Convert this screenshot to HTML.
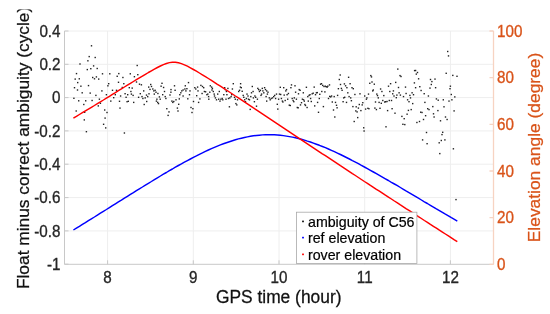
<!DOCTYPE html>
<html><head><meta charset="utf-8"><title>ambiguity</title>
<style>
html,body{margin:0;padding:0;background:#fff;}
svg{display:block;font-family:"Liberation Sans",sans-serif;}
.tk{font-size:15.2px;fill:#262626;stroke:#262626;stroke-width:0.3px;}
.tr{font-size:15.2px;fill:#d95319;stroke:#d95319;stroke-width:0.3px;}
.lb{font-size:17.4px;fill:#111;stroke:#111;stroke-width:0.25px;}
.lg{font-size:14.2px;fill:#000;stroke:#000;stroke-width:0.2px;}
</style></head><body>
<svg width="550" height="314" viewBox="0 0 550 314">
<rect width="550" height="314" fill="#fff"/>
<g stroke="#eeeeee" stroke-width="1"><line x1="107.6" y1="31.0" x2="107.6" y2="264.3"/><line x1="193.3" y1="31.0" x2="193.3" y2="264.3"/><line x1="279.0" y1="31.0" x2="279.0" y2="264.3"/><line x1="364.7" y1="31.0" x2="364.7" y2="264.3"/><line x1="450.4" y1="31.0" x2="450.4" y2="264.3"/><line x1="64.5" y1="31.0" x2="493.5" y2="31.0"/><line x1="64.5" y1="64.3" x2="493.5" y2="64.3"/><line x1="64.5" y1="97.6" x2="493.5" y2="97.6"/><line x1="64.5" y1="130.9" x2="493.5" y2="130.9"/><line x1="64.5" y1="164.2" x2="493.5" y2="164.2"/><line x1="64.5" y1="197.6" x2="493.5" y2="197.6"/><line x1="64.5" y1="230.9" x2="493.5" y2="230.9"/></g>
<g stroke="#c8c8c8" stroke-width="1" fill="none"><path d="M64.5,31.0 V264.3 H493.5"/><path d="M64.5,31.0 h4M64.5,64.3 h4M64.5,97.6 h4M64.5,130.9 h4M64.5,164.2 h4M64.5,197.6 h4M64.5,230.9 h4M64.5,264.2 h4M107.6,264.3 v-4M193.3,264.3 v-4M279.0,264.3 v-4M364.7,264.3 v-4M450.4,264.3 v-4"/></g>
<g stroke="#f7d3c2" stroke-width="1.3" fill="none"><path d="M493.5,31.0 V264.3"/><path d="M493.5,264.3 h-4M493.5,217.6 h-4M493.5,171.0 h-4M493.5,124.3 h-4M493.5,77.7 h-4M493.5,31.0 h-4"/></g>
<g fill="#222"><rect x="90.8" y="45.1" width="1.4" height="1.4"/><rect x="88.5" y="55.9" width="1.4" height="1.4"/><rect x="94.5" y="56.8" width="1.4" height="1.4"/><rect x="87.2" y="60.1" width="1.4" height="1.4"/><rect x="79.3" y="63.3" width="1.4" height="1.4"/><rect x="92.9" y="65.2" width="1.4" height="1.4"/><rect x="90.1" y="68.0" width="1.4" height="1.4"/><rect x="86.6" y="68.9" width="1.4" height="1.4"/><rect x="96.5" y="67.8" width="1.4" height="1.4"/><rect x="75.8" y="72.9" width="1.4" height="1.4"/><rect x="101.8" y="73.1" width="1.4" height="1.4"/><rect x="109.1" y="73.1" width="1.4" height="1.4"/><rect x="118.1" y="72.9" width="1.4" height="1.4"/><rect x="129.6" y="73.1" width="1.4" height="1.4"/><rect x="74.5" y="78.4" width="1.4" height="1.4"/><rect x="78.6" y="78.1" width="1.4" height="1.4"/><rect x="77.0" y="81.9" width="1.4" height="1.4"/><rect x="73.8" y="87.0" width="1.4" height="1.4"/><rect x="76.8" y="89.3" width="1.4" height="1.4"/><rect x="80.2" y="85.5" width="1.4" height="1.4"/><rect x="81.5" y="92.1" width="1.4" height="1.4"/><rect x="87.8" y="84.9" width="1.4" height="1.4"/><rect x="89.5" y="92.4" width="1.4" height="1.4"/><rect x="92.0" y="76.8" width="1.4" height="1.4"/><rect x="93.8" y="78.1" width="1.4" height="1.4"/><rect x="95.7" y="76.2" width="1.4" height="1.4"/><rect x="98.0" y="78.4" width="1.4" height="1.4"/><rect x="95.2" y="94.7" width="1.4" height="1.4"/><rect x="73.2" y="97.6" width="1.4" height="1.4"/><rect x="78.0" y="100.1" width="1.4" height="1.4"/><rect x="85.0" y="100.1" width="1.4" height="1.4"/><rect x="91.4" y="99.8" width="1.4" height="1.4"/><rect x="83.1" y="103.8" width="1.4" height="1.4"/><rect x="75.5" y="110.3" width="1.4" height="1.4"/><rect x="84.0" y="111.6" width="1.4" height="1.4"/><rect x="98.7" y="98.5" width="1.4" height="1.4"/><rect x="101.2" y="90.2" width="1.4" height="1.4"/><rect x="99.7" y="102.6" width="1.4" height="1.4"/><rect x="97.6" y="105.2" width="1.4" height="1.4"/><rect x="104.0" y="109.3" width="1.4" height="1.4"/><rect x="106.3" y="111.8" width="1.4" height="1.4"/><rect x="105.7" y="94.0" width="1.4" height="1.4"/><rect x="108.0" y="83.0" width="1.4" height="1.4"/><rect x="107.2" y="85.1" width="1.4" height="1.4"/><rect x="110.1" y="100.4" width="1.4" height="1.4"/><rect x="111.8" y="89.6" width="1.4" height="1.4"/><rect x="113.0" y="97.0" width="1.4" height="1.4"/><rect x="114.6" y="94.0" width="1.4" height="1.4"/><rect x="115.8" y="89.6" width="1.4" height="1.4"/><rect x="116.5" y="75.6" width="1.4" height="1.4"/><rect x="117.8" y="81.6" width="1.4" height="1.4"/><rect x="122.2" y="76.8" width="1.4" height="1.4"/><rect x="123.1" y="83.0" width="1.4" height="1.4"/><rect x="121.6" y="86.8" width="1.4" height="1.4"/><rect x="118.8" y="100.6" width="1.4" height="1.4"/><rect x="119.3" y="107.4" width="1.4" height="1.4"/><rect x="119.9" y="95.3" width="1.4" height="1.4"/><rect x="124.4" y="93.0" width="1.4" height="1.4"/><rect x="125.4" y="96.6" width="1.4" height="1.4"/><rect x="127.0" y="94.0" width="1.4" height="1.4"/><rect x="126.4" y="101.0" width="1.4" height="1.4"/><rect x="127.6" y="100.6" width="1.4" height="1.4"/><rect x="128.6" y="87.0" width="1.4" height="1.4"/><rect x="131.5" y="87.4" width="1.4" height="1.4"/><rect x="130.2" y="90.8" width="1.4" height="1.4"/><rect x="130.7" y="93.4" width="1.4" height="1.4"/><rect x="132.4" y="94.7" width="1.4" height="1.4"/><rect x="133.0" y="101.7" width="1.4" height="1.4"/><rect x="133.7" y="76.0" width="1.4" height="1.4"/><rect x="83.6" y="119.2" width="1.4" height="1.4"/><rect x="85.7" y="131.0" width="1.4" height="1.4"/><rect x="104.4" y="117.4" width="1.4" height="1.4"/><rect x="102.9" y="123.6" width="1.4" height="1.4"/><rect x="105.0" y="127.2" width="1.4" height="1.4"/><rect x="123.7" y="132.3" width="1.4" height="1.4"/><rect x="135.8" y="81.3" width="1.4" height="1.4"/><rect x="138.8" y="83.5" width="1.4" height="1.4"/><rect x="140.7" y="84.1" width="1.4" height="1.4"/><rect x="143.0" y="90.2" width="1.4" height="1.4"/><rect x="139.6" y="93.0" width="1.4" height="1.4"/><rect x="137.9" y="96.6" width="1.4" height="1.4"/><rect x="141.3" y="95.9" width="1.4" height="1.4"/><rect x="142.2" y="97.8" width="1.4" height="1.4"/><rect x="144.5" y="97.2" width="1.4" height="1.4"/><rect x="145.8" y="94.4" width="1.4" height="1.4"/><rect x="147.0" y="95.9" width="1.4" height="1.4"/><rect x="148.3" y="93.1" width="1.4" height="1.4"/><rect x="146.0" y="100.8" width="1.4" height="1.4"/><rect x="143.5" y="103.8" width="1.4" height="1.4"/><rect x="148.0" y="86.4" width="1.4" height="1.4"/><rect x="150.0" y="83.8" width="1.4" height="1.4"/><rect x="150.8" y="85.8" width="1.4" height="1.4"/><rect x="149.3" y="88.7" width="1.4" height="1.4"/><rect x="152.1" y="88.3" width="1.4" height="1.4"/><rect x="153.1" y="90.2" width="1.4" height="1.4"/><rect x="154.4" y="89.6" width="1.4" height="1.4"/><rect x="155.3" y="91.5" width="1.4" height="1.4"/><rect x="153.6" y="93.4" width="1.4" height="1.4"/><rect x="157.2" y="92.8" width="1.4" height="1.4"/><rect x="158.7" y="96.2" width="1.4" height="1.4"/><rect x="159.5" y="98.5" width="1.4" height="1.4"/><rect x="156.2" y="98.5" width="1.4" height="1.4"/><rect x="155.7" y="100.4" width="1.4" height="1.4"/><rect x="157.0" y="101.7" width="1.4" height="1.4"/><rect x="157.8" y="102.9" width="1.4" height="1.4"/><rect x="161.3" y="82.6" width="1.4" height="1.4"/><rect x="160.4" y="85.5" width="1.4" height="1.4"/><rect x="162.9" y="86.8" width="1.4" height="1.4"/><rect x="163.8" y="90.8" width="1.4" height="1.4"/><rect x="162.0" y="94.0" width="1.4" height="1.4"/><rect x="164.5" y="95.9" width="1.4" height="1.4"/><rect x="165.2" y="97.8" width="1.4" height="1.4"/><rect x="166.1" y="108.0" width="1.4" height="1.4"/><rect x="168.3" y="111.2" width="1.4" height="1.4"/><rect x="169.3" y="94.3" width="1.4" height="1.4"/><rect x="170.2" y="91.5" width="1.4" height="1.4"/><rect x="170.3" y="88.9" width="1.4" height="1.4"/><rect x="171.2" y="100.4" width="1.4" height="1.4"/><rect x="172.1" y="101.7" width="1.4" height="1.4"/><rect x="173.1" y="100.8" width="1.4" height="1.4"/><rect x="175.3" y="99.1" width="1.4" height="1.4"/><rect x="173.8" y="85.1" width="1.4" height="1.4"/><rect x="174.4" y="89.6" width="1.4" height="1.4"/><rect x="176.7" y="107.4" width="1.4" height="1.4"/><rect x="177.3" y="110.3" width="1.4" height="1.4"/><rect x="178.0" y="103.6" width="1.4" height="1.4"/><rect x="178.6" y="98.2" width="1.4" height="1.4"/><rect x="179.1" y="94.0" width="1.4" height="1.4"/><rect x="180.1" y="92.1" width="1.4" height="1.4"/><rect x="181.1" y="90.2" width="1.4" height="1.4"/><rect x="182.4" y="89.3" width="1.4" height="1.4"/><rect x="182.4" y="95.3" width="1.4" height="1.4"/><rect x="184.6" y="85.1" width="1.4" height="1.4"/><rect x="184.2" y="88.3" width="1.4" height="1.4"/><rect x="186.2" y="88.0" width="1.4" height="1.4"/><rect x="185.2" y="90.2" width="1.4" height="1.4"/><rect x="187.8" y="81.9" width="1.4" height="1.4"/><rect x="189.3" y="90.2" width="1.4" height="1.4"/><rect x="188.8" y="94.0" width="1.4" height="1.4"/><rect x="187.1" y="98.1" width="1.4" height="1.4"/><rect x="190.3" y="106.8" width="1.4" height="1.4"/><rect x="192.2" y="108.0" width="1.4" height="1.4"/><rect x="191.3" y="111.8" width="1.4" height="1.4"/><rect x="192.8" y="100.8" width="1.4" height="1.4"/><rect x="194.1" y="87.0" width="1.4" height="1.4"/><rect x="195.1" y="88.3" width="1.4" height="1.4"/><rect x="196.9" y="86.4" width="1.4" height="1.4"/><rect x="197.3" y="90.2" width="1.4" height="1.4"/><rect x="196.0" y="95.0" width="1.4" height="1.4"/><rect x="197.9" y="101.7" width="1.4" height="1.4"/><rect x="199.2" y="98.2" width="1.4" height="1.4"/><rect x="200.2" y="84.7" width="1.4" height="1.4"/><rect x="201.8" y="85.8" width="1.4" height="1.4"/><rect x="203.0" y="87.0" width="1.4" height="1.4"/><rect x="201.4" y="92.8" width="1.4" height="1.4"/><rect x="203.7" y="90.8" width="1.4" height="1.4"/><rect x="136.5" y="64.8" width="1.4" height="1.4"/><rect x="137.1" y="74.0" width="1.4" height="1.4"/><rect x="167.4" y="114.7" width="1.4" height="1.4"/><rect x="204.9" y="91.1" width="1.4" height="1.4"/><rect x="206.2" y="94.0" width="1.4" height="1.4"/><rect x="207.1" y="93.4" width="1.4" height="1.4"/><rect x="207.9" y="95.9" width="1.4" height="1.4"/><rect x="208.1" y="98.5" width="1.4" height="1.4"/><rect x="209.1" y="91.5" width="1.4" height="1.4"/><rect x="209.6" y="85.1" width="1.4" height="1.4"/><rect x="210.9" y="86.4" width="1.4" height="1.4"/><rect x="211.7" y="87.7" width="1.4" height="1.4"/><rect x="211.3" y="89.3" width="1.4" height="1.4"/><rect x="212.6" y="90.8" width="1.4" height="1.4"/><rect x="213.5" y="93.4" width="1.4" height="1.4"/><rect x="213.8" y="95.3" width="1.4" height="1.4"/><rect x="214.7" y="97.2" width="1.4" height="1.4"/><rect x="215.8" y="99.1" width="1.4" height="1.4"/><rect x="217.0" y="93.4" width="1.4" height="1.4"/><rect x="218.6" y="90.8" width="1.4" height="1.4"/><rect x="218.0" y="98.5" width="1.4" height="1.4"/><rect x="219.3" y="100.4" width="1.4" height="1.4"/><rect x="220.2" y="98.5" width="1.4" height="1.4"/><rect x="221.5" y="97.8" width="1.4" height="1.4"/><rect x="222.1" y="99.1" width="1.4" height="1.4"/><rect x="223.1" y="94.0" width="1.4" height="1.4"/><rect x="224.0" y="87.0" width="1.4" height="1.4"/><rect x="224.7" y="88.9" width="1.4" height="1.4"/><rect x="225.7" y="90.8" width="1.4" height="1.4"/><rect x="226.2" y="94.0" width="1.4" height="1.4"/><rect x="227.2" y="87.7" width="1.4" height="1.4"/><rect x="225.3" y="98.5" width="1.4" height="1.4"/><rect x="227.8" y="97.8" width="1.4" height="1.4"/><rect x="229.1" y="97.2" width="1.4" height="1.4"/><rect x="230.4" y="95.9" width="1.4" height="1.4"/><rect x="231.0" y="94.0" width="1.4" height="1.4"/><rect x="231.7" y="88.3" width="1.4" height="1.4"/><rect x="232.6" y="83.0" width="1.4" height="1.4"/><rect x="233.8" y="96.6" width="1.4" height="1.4"/><rect x="234.6" y="98.5" width="1.4" height="1.4"/><rect x="235.2" y="102.9" width="1.4" height="1.4"/><rect x="236.1" y="104.2" width="1.4" height="1.4"/><rect x="236.8" y="99.1" width="1.4" height="1.4"/><rect x="228.7" y="106.1" width="1.4" height="1.4"/><rect x="238.0" y="90.8" width="1.4" height="1.4"/><rect x="238.9" y="89.6" width="1.4" height="1.4"/><rect x="239.7" y="86.4" width="1.4" height="1.4"/><rect x="239.9" y="83.0" width="1.4" height="1.4"/><rect x="240.6" y="87.0" width="1.4" height="1.4"/><rect x="241.5" y="90.6" width="1.4" height="1.4"/><rect x="242.5" y="94.7" width="1.4" height="1.4"/><rect x="243.1" y="96.6" width="1.4" height="1.4"/><rect x="244.0" y="99.1" width="1.4" height="1.4"/><rect x="244.8" y="101.0" width="1.4" height="1.4"/><rect x="245.7" y="97.8" width="1.4" height="1.4"/><rect x="246.3" y="93.4" width="1.4" height="1.4"/><rect x="247.3" y="95.3" width="1.4" height="1.4"/><rect x="247.8" y="98.5" width="1.4" height="1.4"/><rect x="248.8" y="99.1" width="1.4" height="1.4"/><rect x="249.5" y="108.7" width="1.4" height="1.4"/><rect x="250.1" y="95.9" width="1.4" height="1.4"/><rect x="250.8" y="92.1" width="1.4" height="1.4"/><rect x="251.6" y="85.8" width="1.4" height="1.4"/><rect x="252.4" y="90.8" width="1.4" height="1.4"/><rect x="252.7" y="97.2" width="1.4" height="1.4"/><rect x="253.7" y="101.0" width="1.4" height="1.4"/><rect x="254.2" y="95.3" width="1.4" height="1.4"/><rect x="255.0" y="96.6" width="1.4" height="1.4"/><rect x="255.8" y="105.5" width="1.4" height="1.4"/><rect x="256.7" y="98.5" width="1.4" height="1.4"/><rect x="257.1" y="87.7" width="1.4" height="1.4"/><rect x="258.0" y="88.9" width="1.4" height="1.4"/><rect x="258.8" y="90.8" width="1.4" height="1.4"/><rect x="259.7" y="89.6" width="1.4" height="1.4"/><rect x="260.3" y="94.7" width="1.4" height="1.4"/><rect x="260.9" y="93.4" width="1.4" height="1.4"/><rect x="261.6" y="87.7" width="1.4" height="1.4"/><rect x="262.2" y="90.2" width="1.4" height="1.4"/><rect x="263.1" y="92.1" width="1.4" height="1.4"/><rect x="263.9" y="87.0" width="1.4" height="1.4"/><rect x="264.8" y="88.9" width="1.4" height="1.4"/><rect x="265.4" y="95.9" width="1.4" height="1.4"/><rect x="266.0" y="90.2" width="1.4" height="1.4"/><rect x="266.7" y="93.4" width="1.4" height="1.4"/><rect x="266.0" y="100.4" width="1.4" height="1.4"/><rect x="267.3" y="91.5" width="1.4" height="1.4"/><rect x="268.6" y="97.2" width="1.4" height="1.4"/><rect x="269.5" y="99.1" width="1.4" height="1.4"/><rect x="270.5" y="97.8" width="1.4" height="1.4"/><rect x="271.8" y="97.2" width="1.4" height="1.4"/><rect x="273.0" y="95.9" width="1.4" height="1.4"/><rect x="274.0" y="94.7" width="1.4" height="1.4"/><rect x="274.9" y="97.8" width="1.4" height="1.4"/><rect x="275.8" y="93.4" width="1.4" height="1.4"/><rect x="276.6" y="103.6" width="1.4" height="1.4"/><rect x="277.1" y="108.4" width="1.4" height="1.4"/><rect x="277.9" y="98.5" width="1.4" height="1.4"/><rect x="278.8" y="93.4" width="1.4" height="1.4"/><rect x="279.6" y="86.6" width="1.4" height="1.4"/><rect x="280.0" y="93.8" width="1.4" height="1.4"/><rect x="280.7" y="97.8" width="1.4" height="1.4"/><rect x="281.7" y="100.4" width="1.4" height="1.4"/><rect x="282.2" y="101.3" width="1.4" height="1.4"/><rect x="283.0" y="87.0" width="1.4" height="1.4"/><rect x="283.5" y="94.4" width="1.4" height="1.4"/><rect x="284.5" y="99.8" width="1.4" height="1.4"/><rect x="285.1" y="90.2" width="1.4" height="1.4"/><rect x="285.8" y="88.9" width="1.4" height="1.4"/><rect x="286.4" y="94.0" width="1.4" height="1.4"/><rect x="287.0" y="98.5" width="1.4" height="1.4"/><rect x="287.7" y="92.8" width="1.4" height="1.4"/><rect x="288.6" y="104.5" width="1.4" height="1.4"/><rect x="289.6" y="104.8" width="1.4" height="1.4"/><rect x="290.2" y="87.0" width="1.4" height="1.4"/><rect x="290.8" y="84.2" width="1.4" height="1.4"/><rect x="291.5" y="97.8" width="1.4" height="1.4"/><rect x="292.4" y="99.8" width="1.4" height="1.4"/><rect x="293.1" y="101.0" width="1.4" height="1.4"/><rect x="293.6" y="97.2" width="1.4" height="1.4"/><rect x="294.3" y="85.1" width="1.4" height="1.4"/><rect x="294.9" y="91.5" width="1.4" height="1.4"/><rect x="295.7" y="98.5" width="1.4" height="1.4"/><rect x="296.6" y="106.8" width="1.4" height="1.4"/><rect x="297.5" y="107.1" width="1.4" height="1.4"/><rect x="297.8" y="93.1" width="1.4" height="1.4"/><rect x="298.5" y="88.9" width="1.4" height="1.4"/><rect x="299.4" y="89.6" width="1.4" height="1.4"/><rect x="299.8" y="104.2" width="1.4" height="1.4"/><rect x="300.8" y="102.0" width="1.4" height="1.4"/><rect x="301.7" y="98.5" width="1.4" height="1.4"/><rect x="302.6" y="92.1" width="1.4" height="1.4"/><rect x="302.9" y="99.1" width="1.4" height="1.4"/><rect x="303.6" y="100.4" width="1.4" height="1.4"/><rect x="304.2" y="103.8" width="1.4" height="1.4"/><rect x="304.8" y="104.8" width="1.4" height="1.4"/><rect x="305.7" y="86.6" width="1.4" height="1.4"/><rect x="306.4" y="106.8" width="1.4" height="1.4"/><rect x="307.1" y="95.9" width="1.4" height="1.4"/><rect x="307.6" y="100.4" width="1.4" height="1.4"/><rect x="308.4" y="94.7" width="1.4" height="1.4"/><rect x="309.3" y="94.0" width="1.4" height="1.4"/><rect x="309.9" y="97.8" width="1.4" height="1.4"/><rect x="310.6" y="100.8" width="1.4" height="1.4"/><rect x="311.5" y="93.1" width="1.4" height="1.4"/><rect x="312.5" y="92.5" width="1.4" height="1.4"/><rect x="313.5" y="86.4" width="1.4" height="1.4"/><rect x="314.0" y="105.2" width="1.4" height="1.4"/><rect x="314.8" y="94.0" width="1.4" height="1.4"/><rect x="315.7" y="92.1" width="1.4" height="1.4"/><rect x="316.6" y="91.9" width="1.4" height="1.4"/><rect x="316.9" y="101.7" width="1.4" height="1.4"/><rect x="317.8" y="111.6" width="1.4" height="1.4"/><rect x="318.6" y="97.8" width="1.4" height="1.4"/><rect x="319.1" y="93.6" width="1.4" height="1.4"/><rect x="319.9" y="83.5" width="1.4" height="1.4"/><rect x="320.8" y="83.0" width="1.4" height="1.4"/><rect x="321.1" y="90.8" width="1.4" height="1.4"/><rect x="322.0" y="84.7" width="1.4" height="1.4"/><rect x="322.7" y="105.9" width="1.4" height="1.4"/><rect x="323.3" y="85.8" width="1.4" height="1.4"/><rect x="324.2" y="91.2" width="1.4" height="1.4"/><rect x="324.6" y="85.5" width="1.4" height="1.4"/><rect x="325.5" y="86.0" width="1.4" height="1.4"/><rect x="326.5" y="86.4" width="1.4" height="1.4"/><rect x="327.1" y="85.5" width="1.4" height="1.4"/><rect x="328.8" y="84.2" width="1.4" height="1.4"/><rect x="327.8" y="97.8" width="1.4" height="1.4"/><rect x="329.0" y="95.7" width="1.4" height="1.4"/><rect x="330.0" y="96.2" width="1.4" height="1.4"/><rect x="330.9" y="95.3" width="1.4" height="1.4"/><rect x="331.6" y="101.3" width="1.4" height="1.4"/><rect x="332.8" y="109.3" width="1.4" height="1.4"/><rect x="333.5" y="95.9" width="1.4" height="1.4"/><rect x="334.8" y="101.7" width="1.4" height="1.4"/><rect x="335.8" y="104.6" width="1.4" height="1.4"/><rect x="336.4" y="107.1" width="1.4" height="1.4"/><rect x="336.9" y="94.7" width="1.4" height="1.4"/><rect x="337.7" y="88.0" width="1.4" height="1.4"/><rect x="338.6" y="78.8" width="1.4" height="1.4"/><rect x="339.5" y="74.3" width="1.4" height="1.4"/><rect x="339.8" y="83.8" width="1.4" height="1.4"/><rect x="340.7" y="87.7" width="1.4" height="1.4"/><rect x="341.4" y="89.6" width="1.4" height="1.4"/><rect x="342.4" y="101.0" width="1.4" height="1.4"/><rect x="343.0" y="97.2" width="1.4" height="1.4"/><rect x="343.7" y="83.2" width="1.4" height="1.4"/><rect x="344.0" y="96.6" width="1.4" height="1.4"/><rect x="334.1" y="116.3" width="1.4" height="1.4"/><rect x="344.9" y="85.1" width="1.4" height="1.4"/><rect x="346.2" y="87.0" width="1.4" height="1.4"/><rect x="347.1" y="92.1" width="1.4" height="1.4"/><rect x="347.9" y="76.6" width="1.4" height="1.4"/><rect x="345.8" y="101.7" width="1.4" height="1.4"/><rect x="348.4" y="95.9" width="1.4" height="1.4"/><rect x="349.4" y="83.0" width="1.4" height="1.4"/><rect x="350.0" y="97.2" width="1.4" height="1.4"/><rect x="350.7" y="100.0" width="1.4" height="1.4"/><rect x="351.3" y="87.0" width="1.4" height="1.4"/><rect x="352.6" y="88.0" width="1.4" height="1.4"/><rect x="352.2" y="105.9" width="1.4" height="1.4"/><rect x="354.2" y="93.8" width="1.4" height="1.4"/><rect x="355.5" y="106.1" width="1.4" height="1.4"/><rect x="355.1" y="110.2" width="1.4" height="1.4"/><rect x="356.4" y="111.2" width="1.4" height="1.4"/><rect x="357.7" y="107.4" width="1.4" height="1.4"/><rect x="358.6" y="103.8" width="1.4" height="1.4"/><rect x="359.3" y="93.1" width="1.4" height="1.4"/><rect x="360.2" y="109.9" width="1.4" height="1.4"/><rect x="361.5" y="104.2" width="1.4" height="1.4"/><rect x="362.1" y="102.0" width="1.4" height="1.4"/><rect x="364.0" y="95.3" width="1.4" height="1.4"/><rect x="364.9" y="108.4" width="1.4" height="1.4"/><rect x="365.7" y="98.5" width="1.4" height="1.4"/><rect x="366.2" y="97.2" width="1.4" height="1.4"/><rect x="367.2" y="107.6" width="1.4" height="1.4"/><rect x="368.2" y="108.0" width="1.4" height="1.4"/><rect x="367.8" y="93.4" width="1.4" height="1.4"/><rect x="369.1" y="82.6" width="1.4" height="1.4"/><rect x="370.1" y="74.9" width="1.4" height="1.4"/><rect x="370.8" y="76.2" width="1.4" height="1.4"/><rect x="371.3" y="81.3" width="1.4" height="1.4"/><rect x="372.0" y="90.2" width="1.4" height="1.4"/><rect x="372.6" y="89.3" width="1.4" height="1.4"/><rect x="373.6" y="83.5" width="1.4" height="1.4"/><rect x="374.2" y="107.4" width="1.4" height="1.4"/><rect x="374.8" y="101.3" width="1.4" height="1.4"/><rect x="375.7" y="108.9" width="1.4" height="1.4"/><rect x="376.1" y="93.4" width="1.4" height="1.4"/><rect x="376.8" y="94.9" width="1.4" height="1.4"/><rect x="377.6" y="97.2" width="1.4" height="1.4"/><rect x="378.4" y="101.7" width="1.4" height="1.4"/><rect x="379.3" y="107.6" width="1.4" height="1.4"/><rect x="379.9" y="88.3" width="1.4" height="1.4"/><rect x="380.6" y="102.6" width="1.4" height="1.4"/><rect x="381.2" y="90.8" width="1.4" height="1.4"/><rect x="382.1" y="99.8" width="1.4" height="1.4"/><rect x="383.1" y="94.9" width="1.4" height="1.4"/><rect x="384.0" y="101.3" width="1.4" height="1.4"/><rect x="385.0" y="101.0" width="1.4" height="1.4"/><rect x="386.3" y="100.8" width="1.4" height="1.4"/><rect x="386.9" y="109.9" width="1.4" height="1.4"/><rect x="387.8" y="85.5" width="1.4" height="1.4"/><rect x="388.6" y="99.8" width="1.4" height="1.4"/><rect x="389.1" y="90.8" width="1.4" height="1.4"/><rect x="389.9" y="83.0" width="1.4" height="1.4"/><rect x="390.8" y="99.8" width="1.4" height="1.4"/><rect x="391.4" y="108.0" width="1.4" height="1.4"/><rect x="392.0" y="93.1" width="1.4" height="1.4"/><rect x="392.7" y="90.2" width="1.4" height="1.4"/><rect x="393.3" y="95.3" width="1.4" height="1.4"/><rect x="394.3" y="112.5" width="1.4" height="1.4"/><rect x="395.0" y="81.7" width="1.4" height="1.4"/><rect x="395.6" y="97.0" width="1.4" height="1.4"/><rect x="396.2" y="94.4" width="1.4" height="1.4"/><rect x="397.8" y="86.8" width="1.4" height="1.4"/><rect x="398.4" y="92.1" width="1.4" height="1.4"/><rect x="399.3" y="74.9" width="1.4" height="1.4"/><rect x="400.3" y="75.8" width="1.4" height="1.4"/><rect x="399.7" y="94.4" width="1.4" height="1.4"/><rect x="402.8" y="95.9" width="1.4" height="1.4"/><rect x="404.8" y="86.4" width="1.4" height="1.4"/><rect x="405.4" y="92.8" width="1.4" height="1.4"/><rect x="406.4" y="113.5" width="1.4" height="1.4"/><rect x="406.9" y="99.1" width="1.4" height="1.4"/><rect x="407.7" y="109.7" width="1.4" height="1.4"/><rect x="408.3" y="101.0" width="1.4" height="1.4"/><rect x="409.2" y="94.7" width="1.4" height="1.4"/><rect x="409.8" y="97.2" width="1.4" height="1.4"/><rect x="410.5" y="108.9" width="1.4" height="1.4"/><rect x="411.4" y="92.1" width="1.4" height="1.4"/><rect x="412.0" y="102.9" width="1.4" height="1.4"/><rect x="412.8" y="94.0" width="1.4" height="1.4"/><rect x="413.7" y="82.2" width="1.4" height="1.4"/><rect x="397.1" y="68.4" width="1.4" height="1.4"/><rect x="413.9" y="69.9" width="1.4" height="1.4"/><rect x="357.0" y="116.9" width="1.4" height="1.4"/><rect x="353.5" y="120.8" width="1.4" height="1.4"/><rect x="363.0" y="127.1" width="1.4" height="1.4"/><rect x="363.4" y="130.3" width="1.4" height="1.4"/><rect x="385.3" y="126.1" width="1.4" height="1.4"/><rect x="401.2" y="115.7" width="1.4" height="1.4"/><rect x="403.5" y="118.0" width="1.4" height="1.4"/><rect x="402.2" y="123.6" width="1.4" height="1.4"/><rect x="404.1" y="123.9" width="1.4" height="1.4"/><rect x="414.9" y="87.0" width="1.4" height="1.4"/><rect x="417.9" y="78.1" width="1.4" height="1.4"/><rect x="419.1" y="86.0" width="1.4" height="1.4"/><rect x="420.4" y="89.8" width="1.4" height="1.4"/><rect x="423.5" y="93.0" width="1.4" height="1.4"/><rect x="424.2" y="101.7" width="1.4" height="1.4"/><rect x="420.0" y="111.5" width="1.4" height="1.4"/><rect x="421.3" y="111.8" width="1.4" height="1.4"/><rect x="427.0" y="108.0" width="1.4" height="1.4"/><rect x="428.3" y="108.9" width="1.4" height="1.4"/><rect x="427.7" y="95.3" width="1.4" height="1.4"/><rect x="429.3" y="87.4" width="1.4" height="1.4"/><rect x="429.8" y="78.8" width="1.4" height="1.4"/><rect x="430.6" y="83.8" width="1.4" height="1.4"/><rect x="431.2" y="80.9" width="1.4" height="1.4"/><rect x="434.3" y="78.4" width="1.4" height="1.4"/><rect x="434.9" y="87.0" width="1.4" height="1.4"/><rect x="432.1" y="105.9" width="1.4" height="1.4"/><rect x="432.8" y="113.1" width="1.4" height="1.4"/><rect x="435.7" y="98.2" width="1.4" height="1.4"/><rect x="437.5" y="99.5" width="1.4" height="1.4"/><rect x="437.2" y="109.9" width="1.4" height="1.4"/><rect x="442.6" y="99.1" width="1.4" height="1.4"/><rect x="443.3" y="106.1" width="1.4" height="1.4"/><rect x="448.3" y="100.4" width="1.4" height="1.4"/><rect x="449.3" y="88.0" width="1.4" height="1.4"/><rect x="449.7" y="85.5" width="1.4" height="1.4"/><rect x="450.6" y="93.8" width="1.4" height="1.4"/><rect x="451.2" y="99.1" width="1.4" height="1.4"/><rect x="454.1" y="96.2" width="1.4" height="1.4"/><rect x="453.4" y="110.2" width="1.4" height="1.4"/><rect x="452.1" y="74.7" width="1.4" height="1.4"/><rect x="456.3" y="75.6" width="1.4" height="1.4"/><rect x="447.0" y="50.8" width="1.4" height="1.4"/><rect x="447.8" y="55.2" width="1.4" height="1.4"/><rect x="414.9" y="69.8" width="1.4" height="1.4"/><rect x="416.8" y="71.8" width="1.4" height="1.4"/><rect x="415.6" y="73.4" width="1.4" height="1.4"/><rect x="445.5" y="72.6" width="1.4" height="1.4"/><rect x="424.9" y="115.0" width="1.4" height="1.4"/><rect x="433.4" y="116.3" width="1.4" height="1.4"/><rect x="422.8" y="118.8" width="1.4" height="1.4"/><rect x="418.8" y="120.8" width="1.4" height="1.4"/><rect x="416.2" y="121.8" width="1.4" height="1.4"/><rect x="439.8" y="120.1" width="1.4" height="1.4"/><rect x="444.8" y="116.3" width="1.4" height="1.4"/><rect x="446.4" y="118.8" width="1.4" height="1.4"/><rect x="425.8" y="131.8" width="1.4" height="1.4"/><rect x="442.0" y="131.6" width="1.4" height="1.4"/><rect x="441.3" y="133.9" width="1.4" height="1.4"/><rect x="421.9" y="139.2" width="1.4" height="1.4"/><rect x="426.4" y="143.0" width="1.4" height="1.4"/><rect x="438.5" y="142.1" width="1.4" height="1.4"/><rect x="440.6" y="139.8" width="1.4" height="1.4"/><rect x="444.2" y="139.2" width="1.4" height="1.4"/><rect x="452.7" y="148.1" width="1.4" height="1.4"/><rect x="455.3" y="198.9" width="1.4" height="1.4"/><rect x="439.1" y="152.9" width="1.4" height="1.4"/></g>
<path d="M73.4,230.0 L76.4,228.1 L79.4,226.3 L82.4,224.4 L85.4,222.6 L88.4,220.7 L91.4,218.8 L94.4,217.0 L97.4,215.1 L100.4,213.2 L103.4,211.3 L106.4,209.5 L109.4,207.6 L112.4,205.7 L115.4,203.8 L118.4,201.9 L121.4,200.1 L124.4,198.2 L127.4,196.3 L130.4,194.4 L133.4,192.6 L136.4,190.7 L139.4,188.8 L142.4,187.0 L145.4,185.1 L148.4,183.3 L151.4,181.5 L154.4,179.6 L157.4,177.8 L160.4,176.0 L163.4,174.2 L166.4,172.5 L169.4,170.7 L172.4,169.0 L175.4,167.2 L178.4,165.5 L181.4,163.9 L184.4,162.2 L187.4,160.6 L190.4,159.0 L193.4,157.4 L196.4,155.9 L199.4,154.3 L202.4,152.9 L205.4,151.4 L208.4,150.0 L211.4,148.7 L214.4,147.4 L217.4,146.1 L220.4,144.9 L223.4,143.8 L226.4,142.7 L229.4,141.7 L232.4,140.7 L235.4,139.8 L238.4,138.9 L241.4,138.2 L244.4,137.5 L247.4,136.9 L250.4,136.3 L253.4,135.8 L256.4,135.5 L259.4,135.2 L262.4,134.9 L265.4,134.8 L268.4,134.7 L271.4,134.7 L274.4,134.8 L277.4,135.0 L280.4,135.3 L283.4,135.6 L286.4,136.1 L289.4,136.6 L292.4,137.1 L295.4,137.8 L298.4,138.5 L301.4,139.3 L304.4,140.1 L307.4,141.1 L310.4,142.0 L313.4,143.1 L316.4,144.2 L319.4,145.3 L322.4,146.5 L325.4,147.7 L328.4,149.0 L331.4,150.3 L334.4,151.7 L337.4,153.1 L340.4,154.5 L343.4,156.0 L346.4,157.5 L349.4,159.0 L352.4,160.6 L355.4,162.1 L358.4,163.7 L361.4,165.4 L364.4,167.0 L367.4,168.6 L370.4,170.3 L373.4,172.0 L376.4,173.7 L379.4,175.4 L382.4,177.1 L385.4,178.8 L388.4,180.5 L391.4,182.3 L394.4,184.0 L397.4,185.7 L400.4,187.5 L403.4,189.3 L406.4,191.1 L409.4,192.8 L412.4,194.6 L415.4,196.4 L418.4,198.2 L421.4,200.0 L424.4,201.8 L427.4,203.5 L430.4,205.3 L433.4,207.1 L436.4,208.9 L439.4,210.6 L442.4,212.4 L445.4,214.2 L448.4,215.9 L451.4,217.7 L454.4,219.4 L457.3,221.1" fill="none" stroke="#0000ff" stroke-width="1.45" stroke-linejoin="round"/>
<path d="M73.4,118.2 L76.4,116.4 L79.4,114.5 L82.4,112.7 L85.4,110.9 L88.4,109.1 L91.4,107.3 L94.4,105.5 L97.4,103.6 L100.4,101.8 L103.4,100.0 L106.4,98.1 L109.4,96.3 L112.4,94.4 L115.4,92.6 L118.4,90.7 L121.4,88.9 L124.4,87.0 L127.4,85.2 L130.4,83.4 L133.4,81.5 L136.4,79.7 L139.4,77.9 L142.4,76.1 L145.4,74.3 L148.4,72.5 L151.4,70.8 L154.4,69.1 L157.4,67.5 L160.4,66.0 L163.4,64.6 L166.4,63.5 L169.4,62.6 L172.4,62.2 L175.4,62.2 L178.4,62.7 L181.4,63.6 L184.4,64.8 L187.4,66.2 L190.4,67.8 L193.4,69.5 L196.4,71.2 L199.4,73.0 L202.4,74.8 L205.4,76.6 L208.4,78.5 L211.4,80.4 L214.4,82.3 L217.4,84.3 L220.4,86.2 L223.4,88.1 L226.4,90.1 L229.4,92.0 L232.4,94.0 L235.4,96.0 L238.4,97.9 L241.4,99.9 L244.4,101.9 L247.4,103.9 L250.4,105.9 L253.4,107.9 L256.4,109.8 L259.4,111.8 L262.4,113.8 L265.4,115.8 L268.4,117.8 L271.4,119.8 L274.4,121.8 L277.4,123.8 L280.4,125.8 L283.4,127.8 L286.4,129.8 L289.4,131.8 L292.4,133.8 L295.4,135.8 L298.4,137.8 L301.4,139.8 L304.4,141.8 L307.4,143.8 L310.4,145.8 L313.4,147.8 L316.4,149.8 L319.4,151.8 L322.4,153.8 L325.4,155.7 L328.4,157.7 L331.4,159.7 L334.4,161.7 L337.4,163.7 L340.4,165.7 L343.4,167.6 L346.4,169.6 L349.4,171.6 L352.4,173.6 L355.4,175.5 L358.4,177.5 L361.4,179.5 L364.4,181.5 L367.4,183.4 L370.4,185.4 L373.4,187.3 L376.4,189.3 L379.4,191.2 L382.4,193.2 L385.4,195.2 L388.4,197.1 L391.4,199.0 L394.4,201.0 L397.4,202.9 L400.4,204.9 L403.4,206.8 L406.4,208.8 L409.4,210.7 L412.4,212.7 L415.4,214.6 L418.4,216.6 L421.4,218.5 L424.4,220.5 L427.4,222.4 L430.4,224.4 L433.4,226.3 L436.4,228.2 L439.4,230.2 L442.4,232.1 L445.4,234.0 L448.4,235.9 L451.4,237.8 L454.4,239.8 L457.3,241.6" fill="none" stroke="#ff0000" stroke-width="1.45" stroke-linejoin="round"/>
<text class="tk" transform="translate(107.6,283.0) scale(1,1.06)" text-anchor="middle">8</text><text class="tk" transform="translate(193.3,283.0) scale(1,1.06)" text-anchor="middle">9</text><text class="tk" transform="translate(279.0,283.0) scale(1,1.06)" text-anchor="middle">10</text><text class="tk" transform="translate(364.7,283.0) scale(1,1.06)" text-anchor="middle">11</text><text class="tk" transform="translate(450.4,283.0) scale(1,1.06)" text-anchor="middle">12</text><text class="tk" transform="translate(60.5,36.6) scale(1,1.06)" text-anchor="end">0.4</text><text class="tk" transform="translate(60.5,69.9) scale(1,1.06)" text-anchor="end">0.2</text><text class="tk" transform="translate(60.5,103.2) scale(1,1.06)" text-anchor="end">0</text><text class="tk" transform="translate(60.5,136.5) scale(1,1.06)" text-anchor="end">-0.2</text><text class="tk" transform="translate(60.5,169.8) scale(1,1.06)" text-anchor="end">-0.4</text><text class="tk" transform="translate(60.5,203.2) scale(1,1.06)" text-anchor="end">-0.6</text><text class="tk" transform="translate(60.5,236.5) scale(1,1.06)" text-anchor="end">-0.8</text><text class="tk" transform="translate(60.5,269.8) scale(1,1.06)" text-anchor="end">-1</text><text class="tr" transform="translate(497,269.9) scale(1,1.06)">0</text><text class="tr" transform="translate(497,223.2) scale(1,1.06)">20</text><text class="tr" transform="translate(497,176.6) scale(1,1.06)">40</text><text class="tr" transform="translate(497,129.9) scale(1,1.06)">60</text><text class="tr" transform="translate(497,83.3) scale(1,1.06)">80</text><text class="tr" transform="translate(497,36.6) scale(1,1.06)">100</text>
<text class="lb" transform="translate(278.7,302.9) scale(1,1.08)" text-anchor="middle">GPS time (hour)</text>
<text class="lb" style="font-size:17.35px" transform="translate(28.6,147.9) rotate(-90)" text-anchor="middle">Float minus correct ambiguity (cycle)</text>
<text class="lb" style="fill:#d95319;stroke:#d95319" transform="translate(540.3,147.5) rotate(-90)" text-anchor="middle">Elevation angle (degree)</text>
<rect x="0" y="0" width="60" height="9.4" fill="#fff"/>
<g>
<rect x="296.4" y="212.2" width="120.5" height="51.2" fill="#fff" stroke="#a8a8a8" stroke-width="0.8"/>
<rect x="302.1" y="220.5" width="1.8" height="1.8" rx="0.4" fill="#111"/>
<rect x="302.1" y="236.7" width="1.8" height="1.8" rx="0.4" fill="#0000ff"/>
<rect x="302.1" y="253.4" width="1.8" height="1.8" rx="0.4" fill="#ff0000"/>
<text class="lg" x="308" y="226.9">ambiguity of C56</text>
<text class="lg" x="308" y="243.1">ref elevation</text>
<text class="lg" x="308" y="259.6">rover elevation</text>
</g>
</svg></body></html>
